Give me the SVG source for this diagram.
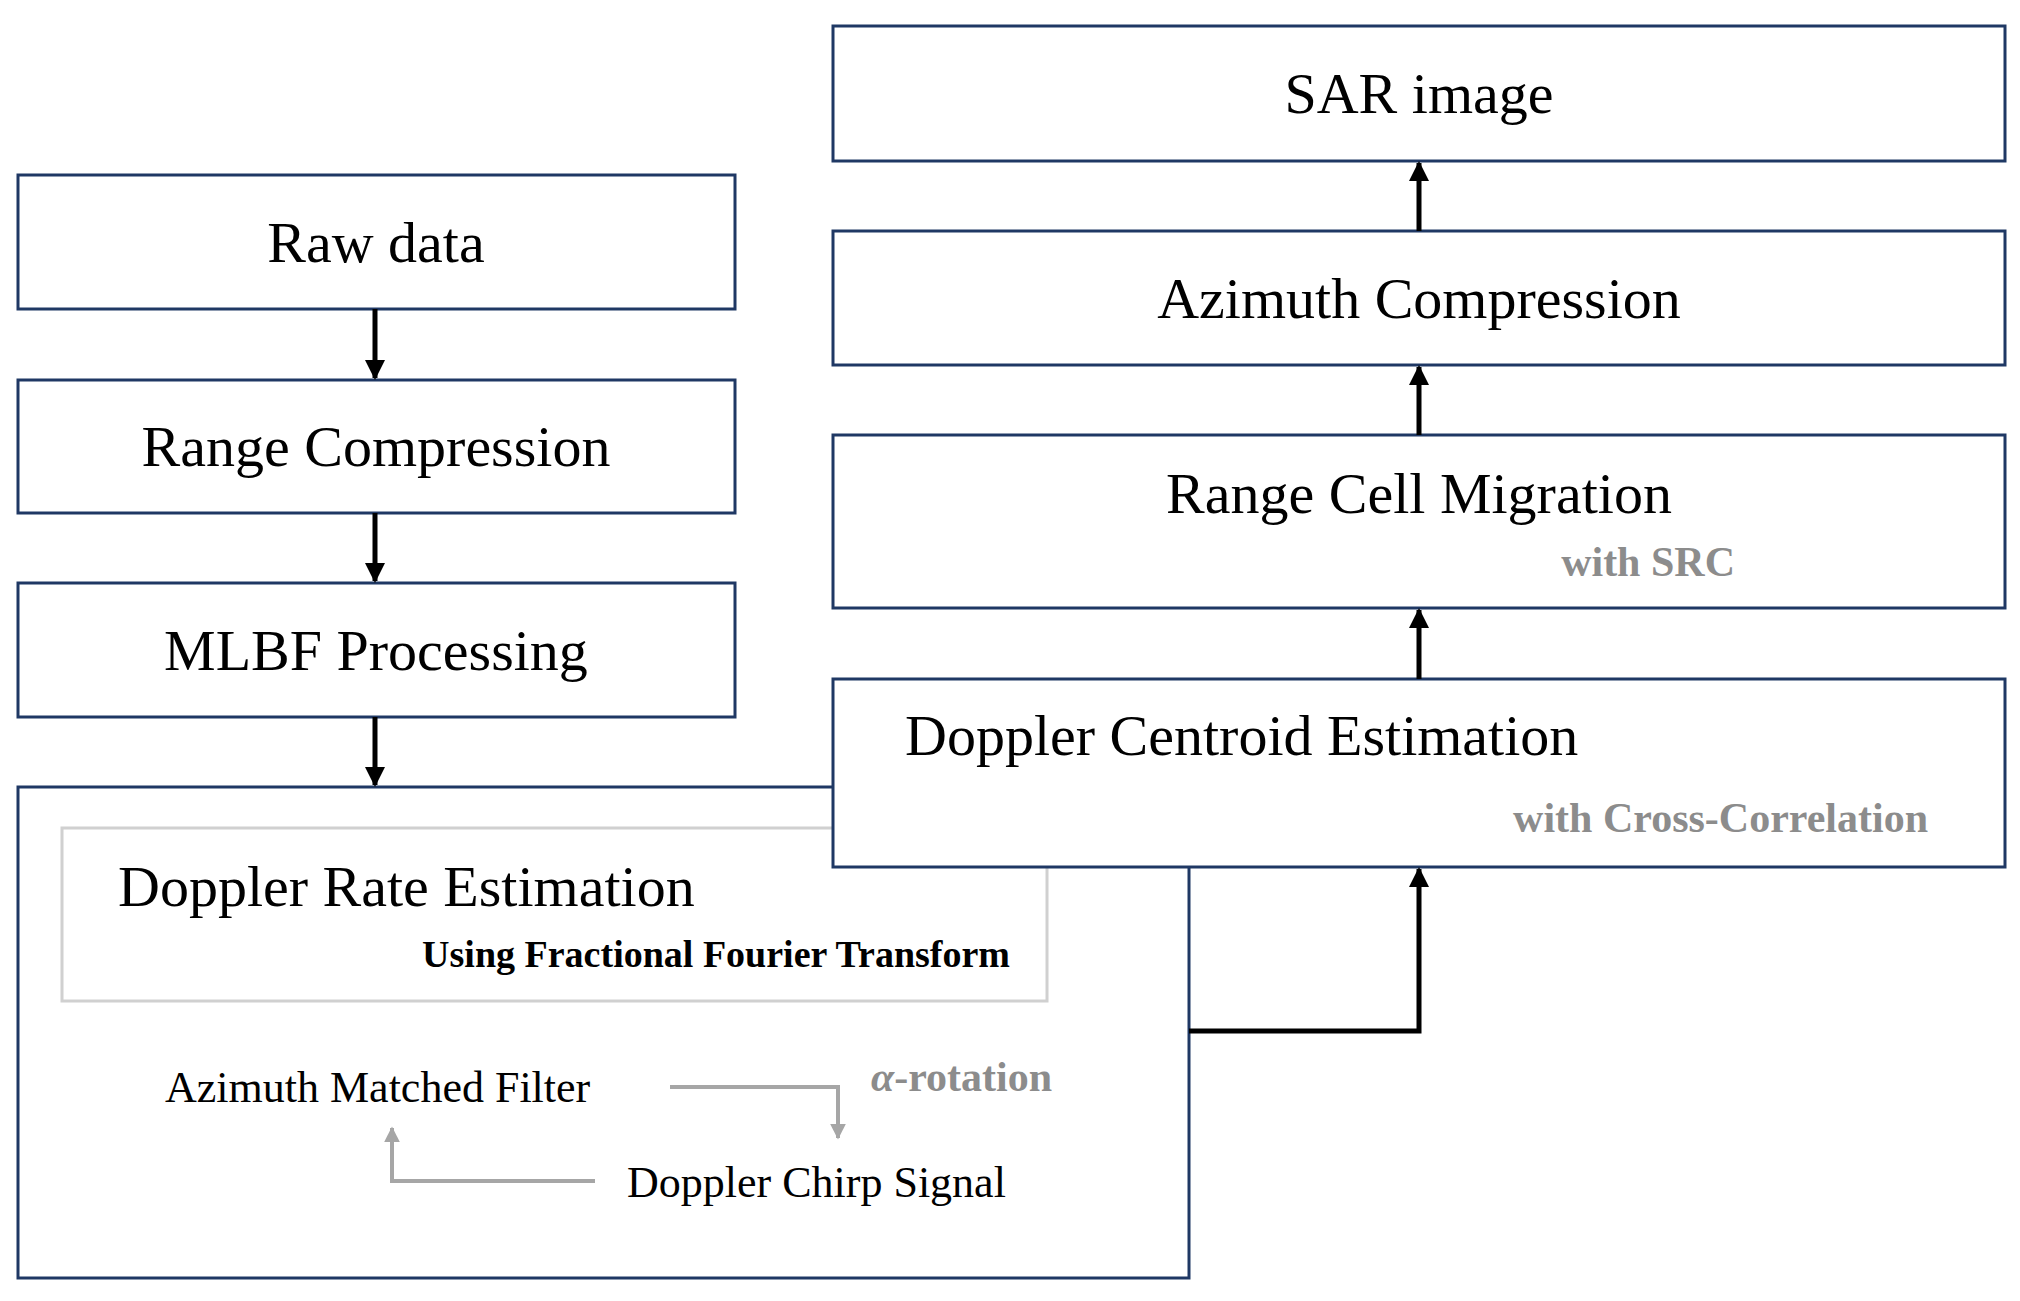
<svg xmlns="http://www.w3.org/2000/svg" width="2020" height="1301" viewBox="0 0 2020 1301">
<defs>
<style>
.box{fill:#fff;stroke:#1f3864;stroke-width:3}
.t{font-family:"Liberation Serif",serif;font-size:58px;fill:#000}
.s{font-family:"Liberation Serif",serif;font-size:44px;fill:#000}
.g{font-family:"Liberation Serif",serif;font-size:42px;font-weight:bold;fill:#8c8c8c}
.c{stroke:#000;stroke-width:5;fill:none}
.gc{stroke:#a6a6a6;stroke-width:4;fill:none}
</style>
<marker id="ah" viewBox="0 0 10 10" refX="9" refY="5" markerWidth="4" markerHeight="4" orient="auto"><path d="M0,0L10,5L0,10z" fill="#000"/></marker>
<marker id="gh" viewBox="0 0 10 10" refX="9" refY="5" markerWidth="4" markerHeight="4" orient="auto"><path d="M0,0L10,5L0,10z" fill="#a6a6a6"/></marker>
</defs>
<rect width="2020" height="1301" fill="#fff"/>
<g id="raw"><rect class="box" x="18" y="175" width="717" height="134"/><text class="t" x="376" y="262" text-anchor="middle">Raw data</text></g>
<g id="rc"><rect class="box" x="18" y="380" width="717" height="133"/><text class="t" x="376" y="466" text-anchor="middle">Range Compression</text></g>
<g id="mlbf"><rect class="box" x="18" y="583" width="717" height="134"/><text class="t" x="376" y="670" text-anchor="middle">MLBF Processing</text></g>
<g id="dre">
<rect class="box" x="18" y="787" width="1171" height="491"/>
<rect x="62" y="828" width="985" height="173" fill="none" stroke="#d0d0d0" stroke-width="3"/>
<text class="t" x="118" y="906">Doppler Rate Estimation</text>
<text x="1010" y="967" text-anchor="end" font-family="Liberation Serif,serif" font-size="38" font-weight="bold">Using Fractional Fourier Transform</text>
<text class="s" x="165" y="1102">Azimuth Matched Filter</text>
<text class="s" x="627" y="1197">Doppler Chirp Signal</text>
<text class="g" x="871" y="1091"><tspan font-style="italic">α</tspan>-rotation</text>
<path class="gc" d="M670,1087H838V1138" marker-end="url(#gh)"/>
<path class="gc" d="M595,1181H392V1128" marker-end="url(#gh)"/>
</g>
<g id="sar"><rect class="box" x="833" y="26" width="1172" height="135"/><text class="t" x="1419" y="113" text-anchor="middle">SAR image</text></g>
<g id="az"><rect class="box" x="833" y="231" width="1172" height="134"/><text class="t" x="1419" y="318" text-anchor="middle">Azimuth Compression</text></g>
<g id="rcm"><rect class="box" x="833" y="435" width="1172" height="173"/><text class="t" x="1419" y="513" text-anchor="middle">Range Cell Migration</text><text class="g" x="1735" y="576" text-anchor="end">with SRC</text></g>
<g id="dce"><rect class="box" x="833" y="679" width="1172" height="188"/><text class="t" x="905" y="755">Doppler Centroid Estimation</text><text class="g" x="1928" y="832" text-anchor="end">with Cross-Correlation</text></g>
<g id="connectors">
<path class="c" d="M375,309V378" marker-end="url(#ah)"/>
<path class="c" d="M375,513V581" marker-end="url(#ah)"/>
<path class="c" d="M375,717V785" marker-end="url(#ah)"/>
<path class="c" d="M1189,1031H1419V869" marker-end="url(#ah)"/>
<path class="c" d="M1419,679V610" marker-end="url(#ah)"/>
<path class="c" d="M1419,435V367" marker-end="url(#ah)"/>
<path class="c" d="M1419,231V163" marker-end="url(#ah)"/>
</g>
</svg>
